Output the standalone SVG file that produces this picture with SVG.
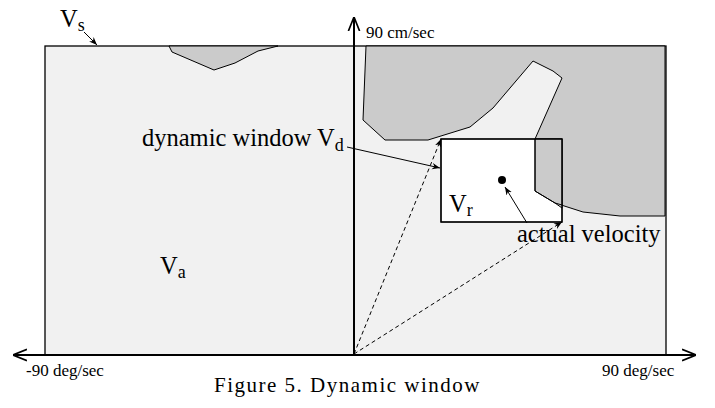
<svg xmlns="http://www.w3.org/2000/svg" width="715" height="408" viewBox="0 0 715 408">
<defs>
<marker id="a" viewBox="0 0 10 10" refX="10" refY="5" markerWidth="8" markerHeight="8" orient="auto-start-reverse"><path d="M0,1 L10,5 L0,9 L3,5z" fill="#000"/></marker>
<marker id="b" viewBox="0 0 10 10" refX="10" refY="5" markerWidth="7" markerHeight="7" orient="auto-start-reverse"><path d="M0,1 L10,5 L0,9" fill="none" stroke="#000" stroke-width="1.2"/></marker>
</defs>
<style>
text{font-family:"Liberation Serif",serif;fill:#000}
.o{fill:#cbcbcb;stroke:#000;stroke-width:1}
.t{font-size:24.5px}
.s{font-size:17px}
.u{font-size:18px}
</style>
<rect width="715" height="408" fill="#fff"/>
<g id="space"><rect x="45" y="46" width="621" height="309" fill="#f1f1f1" stroke="#000" stroke-width="1.3"/></g>
<g id="obstacles">
<path class="o" d="M169,46 L172,52 L214,70 L235,63 L258,51 L278,46Z"/>
<path class="o" d="M366,46 L363,120 L385,140 L428,140 L470,127 L493,108 L533,61 L553,71 L562,78 L535,139 L535,191 L555,203 L583,212 L620,216 L665,216 L665,46Z"/>
</g>
<g id="window"><rect x="441" y="139" width="121" height="83" fill="#fff" stroke="#000" stroke-width="1.2"/>
<path class="o" d="M535,139 L562,139 L562,208 L555,203 L535,191Z" stroke="none"/>
<path d="M535,139 L535,191 L555,203 L562,205" fill="none" stroke="#000"/>
<rect x="441" y="139" width="121" height="83" fill="none" stroke="#000" stroke-width="1.2"/>
<circle cx="502" cy="180" r="4" fill="#000"/></g>
<g id="connectors" stroke="#000" fill="none">
<line x1="354" y1="355" x2="354" y2="17" stroke-width="2" marker-end="url(#b)"/>
<line x1="13" y1="355" x2="696" y2="355" stroke-width="2" marker-start="url(#b)" marker-end="url(#b)"/>
<line x1="354" y1="354" x2="441" y2="139" stroke-dasharray="4,3" marker-end="url(#a)"/>
<line x1="354" y1="354" x2="562" y2="222" stroke-dasharray="4,3" marker-end="url(#a)"/>
<line x1="347" y1="147" x2="440" y2="168" marker-end="url(#a)"/>
<line x1="527" y1="223" x2="505" y2="187" marker-end="url(#a)"/>
<line x1="84" y1="32" x2="97" y2="45" marker-end="url(#a)"/>
</g>
<g id="labels">
<text x="60" y="27" class="t">V<tspan class="u" dy="4">s</tspan></text>
<text x="366" y="38" class="s">90 cm/sec</text>
<text x="142" y="146" class="t">dynamic window V<tspan class="u" dy="5">d</tspan></text>
<text x="449" y="212" class="t">V<tspan class="u" dy="4">r</tspan></text>
<text x="517" y="242" class="t">actual velocity</text>
<text x="160" y="274" class="t">V<tspan class="u" dy="4">a</tspan></text>
<text x="26" y="376" class="s">-90 deg/sec</text>
<text x="602" y="376" class="s">90 deg/sec</text>
<text x="214" y="392" style="font-size:21px;letter-spacing:1.5px">Figure 5. Dynamic window</text>
</g>
</svg>
